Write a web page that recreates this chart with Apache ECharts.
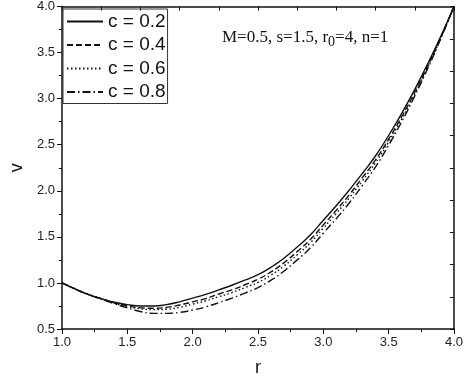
<!DOCTYPE html>
<html>
<head>
<meta charset="utf-8">
<script src="https://cdn.jsdelivr.net/npm/echarts@6/dist/echarts.min.js"></script>
<style>
html,body{margin:0;padding:0;background:#fff;}
#chart{width:474px;height:384px;}
</style>
</head>
<body>
<div id="chart"></div>
<script>
var rValues = [1.0,1.1,1.2,1.3,1.4,1.5,1.6,1.7,1.8,1.9,2.0,2.1,2.2,2.3,2.4,2.5,2.6,2.7,2.8,2.9,3.0,3.1,3.2,3.3,3.4,3.5,3.6,3.7,3.8,3.9,4.0];
var vC02 = [1.00,0.935,0.875,0.83,0.79,0.765,0.75,0.75,0.765,0.795,0.835,0.875,0.925,0.975,1.03,1.09,1.17,1.27,1.39,1.52,1.68,1.84,2.01,2.19,2.38,2.60,2.84,3.10,3.38,3.68,4.00];
var vC04 = [1.00,0.935,0.875,0.83,0.785,0.755,0.73,0.725,0.735,0.76,0.795,0.83,0.88,0.925,0.98,1.04,1.12,1.22,1.34,1.47,1.63,1.79,1.96,2.145,2.335,2.56,2.805,3.07,3.36,3.67,4.00];
var vC06 = [1.00,0.935,0.875,0.83,0.78,0.745,0.72,0.71,0.715,0.735,0.77,0.805,0.85,0.895,0.95,1.005,1.085,1.185,1.305,1.435,1.595,1.755,1.925,2.11,2.305,2.53,2.78,3.05,3.345,3.66,4.00];
var vC08 = [1.00,0.935,0.875,0.825,0.775,0.73,0.69,0.67,0.67,0.68,0.705,0.74,0.785,0.835,0.89,0.95,1.03,1.13,1.25,1.38,1.54,1.70,1.87,2.06,2.26,2.495,2.75,3.03,3.33,3.655,4.00];
var seriesNames = ['c = 0.2','c = 0.4','c = 0.6','c = 0.8'];
var xTicks = ['1.0','1.5','2.0','2.5','3.0','3.5','4.0'];
var yTicks = ['0.5','1.0','1.5','2.0','2.5','3.0','3.5','4.0'];
var annotation = 'M=0.5, s=1.5, r{sub|0}=4, n=1';

function pairs(vs){ return rValues.map(function(r,i){ return [r, vs[i]]; }); }
var dashTypes = ['solid',[6,3],[1.5,2.5],[8,3,1.5,3]];
var allValues = [vC02,vC04,vC06,vC08];

var chart = echarts.init(document.getElementById('chart'), null, {renderer:'canvas'});
var labelFont = {fontFamily:'Liberation Sans', fontSize:13, color:'#222'};
chart.setOption({
  backgroundColor:'#fff',
  animation:false,
  grid:{left:57, right:20, top:6, bottom:55},
  legend:{
    left:63, top:9, orient:'vertical', itemGap:4.5, itemWidth:36, itemHeight:14,
    padding:[3,2,2,3], borderColor:'#333', borderWidth:1,
    itemStyle:{opacity:0},
    textStyle:{fontFamily:'Liberation Sans', fontSize:19, color:'#111'},
    data:seriesNames
  },
  xAxis:[{
    type:'value', min:1, max:4, interval:0.5, position:'bottom',
    name:'r', nameLocation:'middle', nameGap:30,
    nameTextStyle:{fontFamily:'Liberation Sans', fontSize:18, color:'#111'},
    axisLine:{show:true, onZero:false, lineStyle:{color:'#111', width:1.5}},
    axisTick:{show:true, inside:false, length:5, lineStyle:{color:'#111', width:1}},
    minorTick:{show:true, splitNumber:2, length:3, lineStyle:{color:'#111', width:1}},
    axisLabel:Object.assign({margin:7, formatter:function(v){ var s=v.toFixed(1); return xTicks.indexOf(s)>=0?s:''; }}, labelFont),
    splitLine:{show:false}
  },{
    type:'value', min:0, max:10, interval:1, position:'top',
    axisLine:{show:true, onZero:false, lineStyle:{color:'#111', width:1.5}},
    axisTick:{show:true, inside:true, length:4, lineStyle:{color:'#111', width:1}},
    axisLabel:{show:false}, splitLine:{show:false}
  }],
  yAxis:[{
    type:'value', min:0.5, max:4, interval:0.5, position:'left',
    name:'v', nameLocation:'middle', nameGap:32, nameRotate:90,
    nameTextStyle:{fontFamily:'Liberation Sans', fontSize:18, color:'#111'},
    axisLine:{show:true, onZero:false, lineStyle:{color:'#111', width:1.5}},
    axisTick:{show:true, inside:false, length:5, lineStyle:{color:'#111', width:1}},
    minorTick:{show:true, splitNumber:2, length:3, lineStyle:{color:'#111', width:1}},
    axisLabel:Object.assign({margin:7, formatter:function(v){ var s=v.toFixed(1); return yTicks.indexOf(s)>=0?s:''; }}, labelFont),
    splitLine:{show:false}
  },{
    type:'value', min:0, max:10, interval:1, position:'right',
    axisLine:{show:true, onZero:false, lineStyle:{color:'#111', width:1.5}},
    axisTick:{show:true, inside:true, length:4, lineStyle:{color:'#111', width:1}},
    axisLabel:{show:false}, splitLine:{show:false}
  }],
  graphic:[{
    type:'text', left:222, top:29,
    style:{
      text:annotation,
      font:'17px "Liberation Serif"', fill:'#111',
      rich:{sub:{fontFamily:'Liberation Serif', fontSize:14, padding:[10,0,0,0], fill:'#111'}}
    }
  }],
  series:seriesNames.map(function(n,i){
    return {
      name:n, type:'line', xAxisIndex:0, yAxisIndex:0, data:pairs(allValues[i]),
      symbol:'none', smooth:true, color:'#111',
      lineStyle:{color:'#111', width:1.4, type:dashTypes[i]}
    };
  })
});
</script>
</body>
</html>
